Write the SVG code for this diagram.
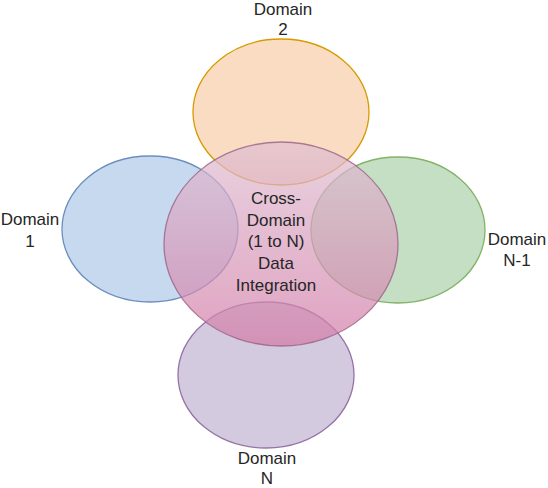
<svg xmlns="http://www.w3.org/2000/svg" width="548" height="488" viewBox="0 0 548 488">
<style>
.lbl{font-family:"Liberation Sans",Arial,sans-serif;font-size:17px;fill:#262626;text-anchor:middle}
.e{stroke-width:1.3}
</style>
<defs>
<linearGradient id="pg" x1="0" y1="0" x2="0" y2="1">
<stop offset="0" stop-color="#dfbfd2"/>
<stop offset="1" stop-color="#d27aa6"/>
</linearGradient>
</defs>
<rect width="548" height="488" fill="#ffffff"/>
<g id="domain2">
<ellipse class="e" cx="281" cy="112" rx="88" ry="73" fill="#fadcc2" stroke="#d79b00"/>
<text class="lbl" x="283" y="15">Domain</text>
<text class="lbl" x="283" y="35">2</text>
</g>
<g id="domain1">
<ellipse class="e" cx="150" cy="229" rx="88" ry="73" fill="#c7d9ef" stroke="#6c8ebf"/>
<text class="lbl" x="30" y="225">Domain</text>
<text class="lbl" x="30" y="247">1</text>
</g>
<g id="domainN1">
<ellipse class="e" cx="398" cy="230" rx="87" ry="73" fill="#c5dfc5" stroke="#82b366"/>
<text class="lbl" x="517" y="245">Domain</text>
<text class="lbl" x="517" y="266">N-1</text>
</g>
<g id="domainN">
<ellipse class="e" cx="266" cy="375" rx="88" ry="73" fill="#d4cadf" stroke="#9673a6"/>
<text class="lbl" x="267" y="464">Domain</text>
<text class="lbl" x="267" y="484">N</text>
</g>
<g id="cross">
<ellipse class="e" cx="281" cy="244" rx="117" ry="102" fill="url(#pg)" fill-opacity="0.7" stroke="#996185" stroke-opacity="0.8"/>
<text class="lbl" x="276" y="204">Cross-</text>
<text class="lbl" x="276" y="226">Domain</text>
<text class="lbl" x="276" y="247">(1 to N)</text>
<text class="lbl" x="276" y="269">Data</text>
<text class="lbl" x="276" y="291">Integration</text>
</g>
<g id="connectors"></g>
</svg>
